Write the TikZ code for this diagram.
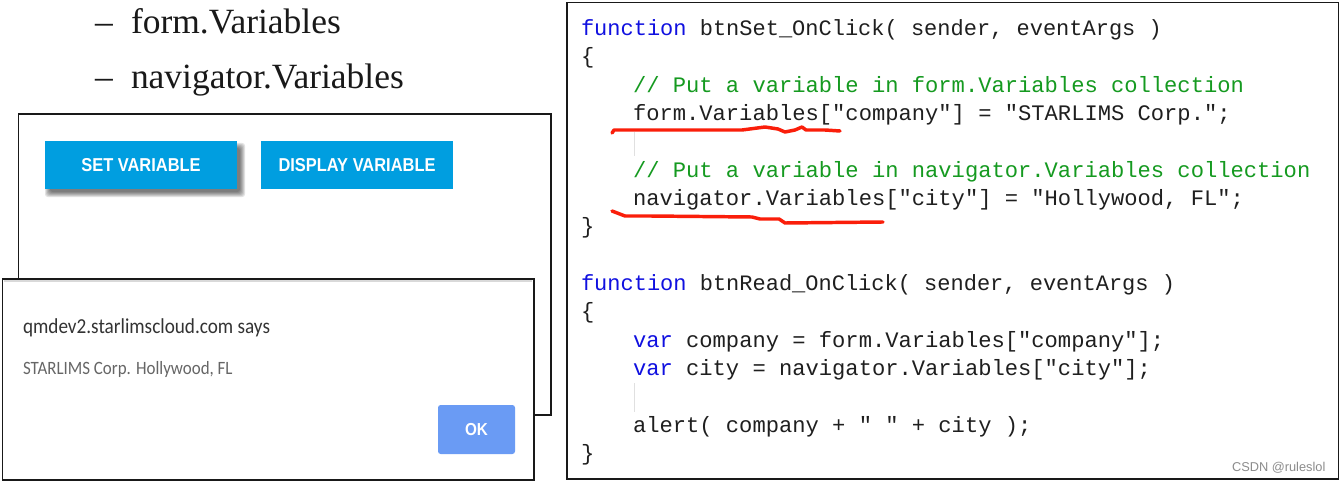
\documentclass[tikz,border=0pt]{standalone}
\usepackage{fontspec}
\setmainfont{Liberation Serif}
\newfontfamily\codefont{Liberation Mono}
\newfontfamily\uifont[FakeStretch=0.9]{Carlito}
\newfontfamily\btnfont[FakeStretch=0.88]{Liberation Sans}
\newfontfamily\wmfont{Liberation Sans}
\definecolor{kw}{HTML}{1010E0}
\definecolor{cm}{HTML}{159A20}
\definecolor{btnblue}{HTML}{009EE0}
\definecolor{okblue}{HTML}{6A9BF4}
\definecolor{redline}{HTML}{FA1E0A}
\newcommand{\kwd}[1]{\textcolor{kw}{#1}}
\tikzset{
  every node/.style={inner sep=0pt,outer sep=0pt},
  code/.style={anchor=base west,font=\codefont\fontsize{16.6}{18}\selectfont,text=black!88},
  codehead/.style={code,font=\codefont\fontsize{16.5}{18}\selectfont},
  bullet/.style={anchor=base west,font=\fontsize{26.6}{28}\selectfont,text=black!90},
  frame/.style={draw=black!90,line width=1pt,fill=white},
  btn/.style={fill=btnblue,text=white,font=\btnfont\bfseries\fontsize{14}{16}\selectfont},
  scribble/.style={draw=redline,line width=2.6pt,line cap=round,line join=round},
  guide/.style={draw=black!12,line width=0.6pt}
}
\begin{document}
\begin{tikzpicture}[x=0.75pt,y=-0.75pt]
\useasboundingbox (0,0) rectangle (1341,481);
\fill[white] (0,0) rectangle (1341,481);
% bullets
\node[bullet] (d1) at (95,34) {–};
\node[bullet] (b1) at (131,34) {form.Variables};
\node[bullet] (d2) at (95,89) {–};
\node[bullet] (b2) at (131,89) {navigator.Variables};
% page box
\draw[frame] (18.5,114) rectangle (551,415);
\foreach \i in {5,4,3,2,1,0}
  \fill[black,opacity=0.11,rounded corners=2pt] (45-\i+5,141-\i+7) rectangle (237+\i+3,189+\i+3);
\node[btn,minimum width=144pt,minimum height=36pt,anchor=north west] (set) at (45,141) {SET VARIABLE};
\node[btn,minimum width=144pt,minimum height=36pt,anchor=north west] (disp) at (261,141) {DISPLAY VARIABLE};
% alert box
\draw[frame] (2.5,279) rectangle (534,480);
\draw[black!15,line width=1pt] (4,281) -- (532,281);
\node[anchor=base west,font=\uifont\fontsize{16}{18}\selectfont,text=black!80] (says) at (23,333) {qmdev2.starlimscloud.com says};
\node[anchor=base west,font=\uifont\fontsize{14.1}{16}\selectfont,text=black!60] (msg) at (23,374) {STARLIMS Corp. Hollywood, FL};
\node[fill=okblue,rounded corners=2pt,minimum width=57.75pt,minimum height=36.75pt,anchor=north west,text=white,font=\btnfont\bfseries\fontsize{13}{15}\selectfont] (ok) at (438,405) {OK};
% code box
\draw[frame,line width=1.2pt] (567,2.5) rectangle (1338.5,479);
\draw[guide] (634,132) -- (634,156);
\draw[guide] (634,383) -- (634,412);
\node[codehead] (c1) at (581,36) {\kwd{function} btnSet\_OnClick( sender, eventArgs )};
\node[code] (c2) at (581,64) {\{};
\node[code,text=cm] (c3) at (633,92.5) {// Put a variable in form.Variables collection};
\node[code] (c4) at (633,121) {form.Variables["company"] = "STARLIMS Corp.";};
\node[code,text=cm] (c5) at (633,177) {// Put a variable in navigator.Variables collection};
\node[code] (c6) at (633,205) {navigator.Variables["city"] = "Hollywood, FL";};
\node[code] (c7) at (581,233) {\}};
\node[codehead] (c8) at (581,290) {\kwd{function} btnRead\_OnClick( sender, eventArgs )};
\node[code] (c9) at (581,318) {\{};
\node[code] (c10) at (633,347) {\kwd{var} company = form.Variables["company"];};
\node[code] (c11) at (633,375) {\kwd{var} city = navigator.Variables["city"];};
\node[code] (c12) at (633,432) {alert( company + " " + city );};
\node[code] (c13) at (581,460) {\}};
% red underlines
\draw[scribble] (612,133) -- (614,130) -- (680,130) -- (742,130) -- (765,127) -- (778,129) -- (785,132) -- (795,130) -- (802,127) -- (806,130) -- (825,130) -- (840,131);
\draw[scribble] (612,211) -- (625,216) -- (650,216) -- (752,217) -- (760,219) -- (779,219) -- (785,223) -- (883,222);
% watermark
\node[anchor=base west,font=\wmfont\fontsize{9.6}{11}\selectfont,text=black!45] (wm) at (1232,471) {CSDN @ruleslol};
\end{tikzpicture}
\end{document}
